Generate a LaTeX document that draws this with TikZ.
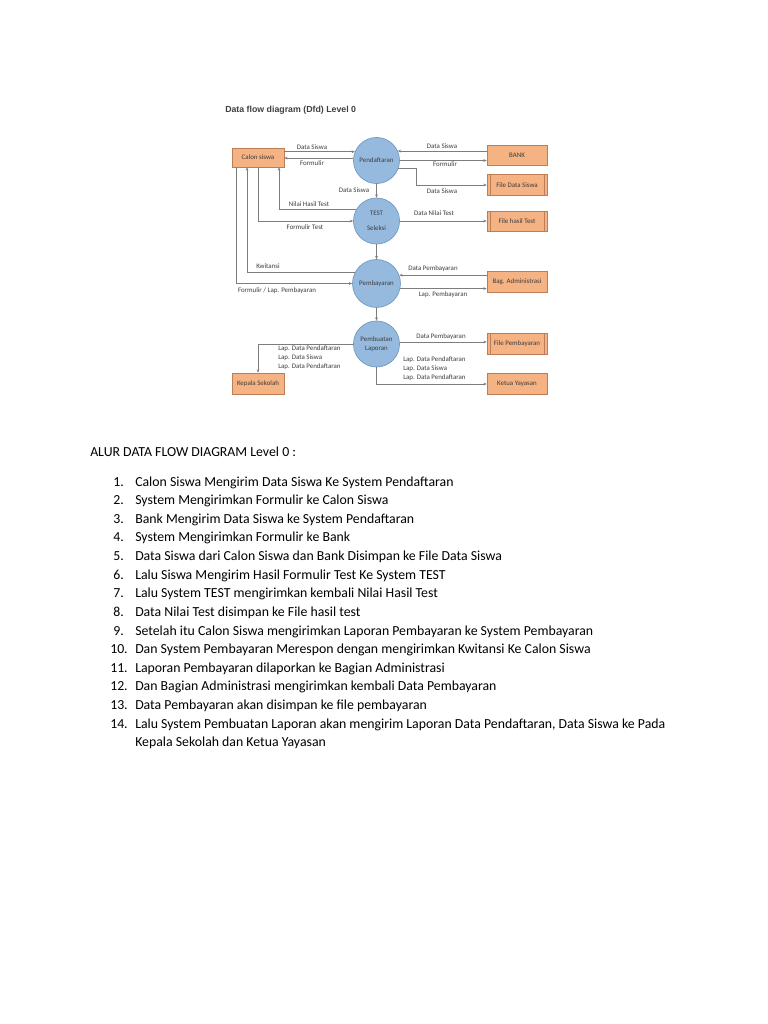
\documentclass[tikz,border=0pt]{standalone}
\usepackage{fontspec}
\setmainfont{Carlito}
\newfontfamily\titlefont{Liberation Sans}
\usetikzlibrary{arrows.meta,calc}
\definecolor{boxfill}{RGB}{245,178,130}
\definecolor{boxdraw}{RGB}{190,125,85}
\definecolor{circfill}{RGB}{150,186,222}
\definecolor{circdraw}{RGB}{105,148,192}
\definecolor{flow}{RGB}{125,125,125}
\definecolor{lbl}{RGB}{60,60,60}
\definecolor{ttl}{RGB}{64,64,64}
\begin{document}
\begin{tikzpicture}[x=0.796875pt,y=-0.796875pt,
  ext/.style={draw=boxdraw,fill=boxfill,line width=0.5pt,inner sep=0pt,minimum width=47.8pt,minimum height=16.3pt,font=\fontsize{5.5}{6}\selectfont,text=lbl},
  store/.style={ext,path picture={\draw[boxdraw,line width=0.4pt] ([xshift=2.4pt]path picture bounding box.north west) -- ([xshift=2.4pt]path picture bounding box.south west); \draw[boxdraw,line width=0.4pt] ([xshift=-2.4pt]path picture bounding box.north east) -- ([xshift=-2.4pt]path picture bounding box.south east);}},
  proc/.style={circle,draw=circdraw,fill=circfill,line width=0.5pt,inner sep=0pt,minimum size=36.7pt,font=\fontsize{5.5}{7}\selectfont,text=lbl,align=center},
  flowline/.style={draw=flow,line width=0.45pt,-{Stealth[length=2.6pt,width=2.2pt]}},
  flbl/.style={font=\fontsize{5.5}{6.5}\selectfont,text=lbl,inner sep=0pt},
  body/.style={font=\fontsize{11}{13}\selectfont,anchor=base west,inner sep=0pt},
]
\fill[white] (0,0) rectangle (768,1024);
\useasboundingbox (0,0) rectangle (768,1024);

\node[font=\titlefont\bfseries\fontsize{7}{8}\selectfont,text=ttl,anchor=west,inner sep=0pt] (title) at (225,110) {Data flow diagram (Dfd) Level 0};

% external entities and stores
\node[ext,minimum width=41.4pt,minimum height=15.1pt] (calon) at (258,157.5) {Calon siswa};
\node[ext,minimum width=41.4pt,minimum height=16.7pt] (kepala) at (258,383.5) {Kepala Sekolah};
\node[ext] (bank) at (517,155.5) {BANK};
\node[store] (fds) at (517,185) {File Data Siswa};
\node[store] (fht) at (517,221.5) {File hasil Test};
\node[ext] (bag) at (517,282) {Bag. Administrasi};
\node[store] (fpb) at (517,344) {File Pembayaran};
\node[ext] (ketua) at (517,384) {Ketua Yayasan};

% processes
\node[proc] (pend) at (376.5,160.5) {Pendaftaran};
\node[proc] (test) at (376.5,221) {TEST\\[5pt]Seleksi};
\node[proc,minimum size=38.2pt] (pemb) at (376.5,283.5) {Pembayaran};
\node[proc] (lap) at (376.5,344) {Pembuatan\\Laporan};

\coordinate (xa) at (416,0);
\coordinate (xb) at (279,0);
\coordinate (xc) at (247,0);
\coordinate (xd) at (236,0);

% flows
\draw[flowline] (calon.east |- pend.158) -- (pend.158);
\draw[flowline] (pend.174) -- (calon.east |- pend.174);
\draw[flowline] (bank.west |- pend.24) -- (pend.24);
\draw[flowline] (pend.0) -- (bank.west |- pend.0);
\draw[flowline] (pend.-20) -- (pend.-20 -| xa) -- (xa |- fds.west) -- (fds.west);
\draw[flowline] (pend.south) -- (test.north);
\draw[flowline] (test.151) -- (test.151 -| xb) -- (xb |- calon.south);
\draw[flowline] (calon.south) |- (test.west);
\draw[flowline] (test.0) -- (fht.west |- test.0);
\draw[flowline] (test.south) -- (pemb.north);
\draw[flowline] (pemb.153) -- (pemb.153 -| xc) -- (xc |- calon.south);
\draw[flowline] (xd |- calon.south) |- (pemb.west);
\draw[flowline] (bag.west |- pemb.20) -- (pemb.20);
\draw[flowline] (pemb.-12) -- (bag.west |- pemb.-12);
\draw[flowline] (pemb.south) -- (lap.north);
\draw[flowline] (lap.5) -- (fpb.west |- lap.5);
\draw[flowline] (lap.south) |- (ketua.west);
\draw[flowline] (lap.west) -| (kepala.north);

% flow labels
\node[flbl] (l1) at (312,147) {Data Siswa};
\node[flbl] (l2) at (312,163) {Formulir};
\node[flbl] (l3) at (442,146) {Data Siswa};
\node[flbl] (l4) at (445,164.5) {Formulir};
\node[flbl] (l5) at (442,191) {Data Siswa};
\node[flbl] (l6) at (354,190) {Data Siswa};
\node[flbl] (l7) at (309,204) {Nilai Hasil Test};
\node[flbl] (l8) at (305,227) {Formulir Test};
\node[flbl] (l9) at (434,213.5) {Data Nilai Test};
\node[flbl] (l10) at (268,266) {Kwitansi};
\node[flbl] (l11) at (277,291) {Formulir / Lap. Pembayaran};
\node[flbl] (l12) at (433,269) {Data Pembayaran};
\node[flbl] (l13) at (443,295) {Lap. Pembayaran};
\node[flbl] (l14) at (441,337) {Data Pembayaran};
\node[flbl,anchor=west] (l15) at (403,360) {Lap. Data Pendaftaran};
\node[flbl,anchor=west] (l16) at (403,369) {Lap. Data Siswa};
\node[flbl,anchor=west] (l17) at (403,377.5) {Lap. Data Pendaftaran};
\node[flbl,anchor=west] (l18) at (278,349) {Lap. Data Pendaftaran};
\node[flbl,anchor=west] (l19) at (278,357.5) {Lap. Data Siswa};
\node[flbl,anchor=west] (l20) at (278,366.5) {Lap. Data Pendaftaran};

% text below
\node[body] (head) at (90,456) {ALUR DATA FLOW DIAGRAM Level 0 :};
\node[body] (n1) at (113,486) {1.};   \node[body] (t1) at (135,486) {Calon Siswa Mengirim Data Siswa Ke System Pendaftaran};
\node[body] (n2) at (113,504.6) {2.}; \node[body] (t2) at (135,504.6) {System Mengirimkan Formulir ke Calon Siswa};
\node[body] (n3) at (113,523.2) {3.}; \node[body] (t3) at (135,523.2) {Bank Mengirim Data Siswa ke System Pendaftaran};
\node[body] (n4) at (113,541.9) {4.}; \node[body] (t4) at (135,541.9) {System Mengirimkan Formulir ke Bank};
\node[body] (n5) at (113,560.5) {5.}; \node[body] (t5) at (135,560.5) {Data Siswa dari Calon Siswa dan Bank Disimpan ke File Data Siswa};
\node[body] (n6) at (113,579.1) {6.}; \node[body] (t6) at (135,579.1) {Lalu Siswa Mengirim Hasil Formulir Test Ke System TEST};
\node[body] (n7) at (113,597.7) {7.}; \node[body] (t7) at (135,597.7) {Lalu System TEST mengirimkan kembali Nilai Hasil Test};
\node[body] (n8) at (113,616.3) {8.}; \node[body] (t8) at (135,616.3) {Data Nilai Test disimpan ke File hasil test};
\node[body] (n9) at (113,635) {9.};   \node[body] (t9) at (135,635) {Setelah itu Calon Siswa mengirimkan Laporan Pembayaran ke System Pembayaran};
\node[body] (n10) at (110,653.6) {10.}; \node[body] (t10) at (135,653.6) {Dan System Pembayaran Merespon dengan mengirimkan Kwitansi Ke Calon Siswa};
\node[body] (n11) at (110,672.2) {11.}; \node[body] (t11) at (135,672.2) {Laporan Pembayaran dilaporkan ke Bagian Administrasi};
\node[body] (n12) at (110,690.8) {12.}; \node[body] (t12) at (135,690.8) {Dan Bagian Administrasi mengirimkan kembali Data Pembayaran};
\node[body] (n13) at (110,709.4) {13.}; \node[body] (t13) at (135,709.4) {Data Pembayaran akan disimpan ke file pembayaran};
\node[body] (n14) at (110,728.1) {14.}; \node[body] (t14) at (135,728.1) {Lalu System Pembuatan Laporan akan mengirim Laporan Data Pendaftaran, Data Siswa ke Pada};
\node[body] (t14b) at (135,746.7) {Kepala Sekolah dan Ketua Yayasan};
\end{tikzpicture}
\end{document}
